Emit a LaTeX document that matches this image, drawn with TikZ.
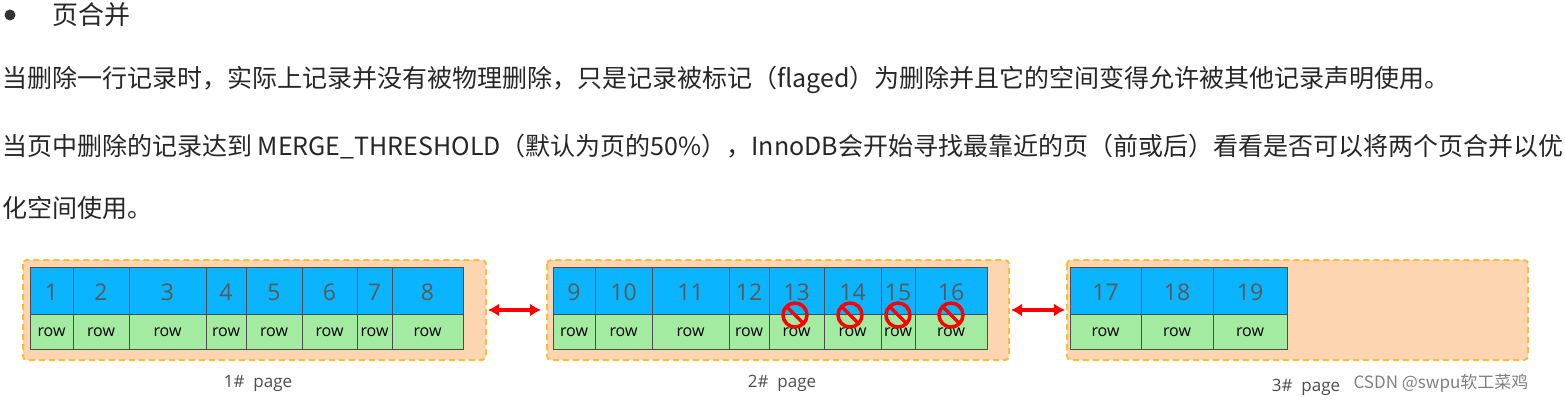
\documentclass[tikz,border=0pt]{standalone}
\usepackage{fontspec}
\usetikzlibrary{arrows.meta}
\setmainfont{Noto Sans CJK SC}
\newfontfamily\uifont{Open Sans}
\definecolor{cblue}{HTML}{0BB4FF}
\definecolor{cgreen}{HTML}{A4EBA2}
\definecolor{cpage}{HTML}{FDD5B1}
\definecolor{cdash}{HTML}{F7BE3C}
\begin{document}
\begin{tikzpicture}[x=1pt,y=-1pt,
  pagebox/.style={draw=cdash,fill=cpage,dash pattern=on 6pt off 4pt,line width=2pt,rounded corners=4pt},
  numcell/.style={draw=black!70,fill=cblue,line width=0.7pt},
  rowcell/.style={draw=black!70,fill=cgreen,line width=0.7pt},
  numtxt/.style={font=\uifont\fontsize{23}{23}\selectfont,text=black!65},
  rowtxt/.style={font=\uifont\fontsize{16}{16}\selectfont},
  lbl/.style={font=\uifont\fontsize{17}{17}\selectfont,text=black!70},
  para/.style={anchor=west,font=\fontsize{25}{26}\selectfont,text=black!85,inner sep=0},
  link/.style={draw=red,line width=3.5pt,{Latex[length=11pt,width=13pt]}-{Latex[length=11pt,width=13pt]}},
  nosign/.style={draw=red,line width=3.5pt,circle,minimum size=24pt,inner sep=0}]
\useasboundingbox (0,0) rectangle (1565,401);
\fill[black!80] (10,15) circle (5.5);
\node[para,font=\fontsize{26}{26}\selectfont] (title) at (52,15) {页合并};
\node[para] (p1) at (2,80) {当删除一行记录时，实际上记录并没有被物理删除，只是记录被标记（flaged）为删除并且它的空间变得允许被其他记录声明使用。};
\node[para] (p2) at (2,147) {当页中删除的记录达到 MERGE\_THRESHOLD（默认为页的50\%），InnoDB会开始寻找最靠近的页（前或后）看看是否可以将两个页合并以优};
\node[para] (p3) at (2,208) {化空间使用。};
% pages
\draw[pagebox] (23,260) rectangle (486,360);
\draw[pagebox] (547,260) rectangle (1009,360);
\draw[pagebox] (1067,260) rectangle (1528,360);
\newcommand{\cells}[2]{%
 \foreach \a/\b/\t in {#1}{%
  \draw[numcell] (\a,267) rectangle (\b,314);
  \draw[rowcell] (\a,314) rectangle (\b,349);
  \node[numtxt] at ({(\a+\b)/2},292) {\t};
  \node[rowtxt] at ({(\a+\b)/2},332) {row};}}
\cells{30/73/1,73/129/2,129/206/3,206/246/4,246/302/5,302/357/6,357/392/7,392/463/8}{}
\cells{553/595/9,595/652/10,652/729/11,729/769/12,769/824/13,824/881/14,881/915/15,915/987/16}{}
\cells{1070/1141/17,1141/1213/18,1213/1287/19}{}
\foreach \x/\n in {795/a,850/b,898/c,951/d}{
  \node[nosign] (s\n) at (\x,315) {};
  \draw[red,line width=3.5pt] ([shift={(-8.5,-8.5)}]s\n.center) -- ([shift={(8.5,8.5)}]s\n.center);}
\coordinate (l1) at (488,310); \coordinate (r1) at (541,310);
\coordinate (l2) at (1011,310); \coordinate (r2) at (1065,310);
\draw[link] (l1) -- (r1);
\draw[link] (l2) -- (r2);
\node[lbl] (n1) at (258,383) {1\#\ \ page};
\node[lbl] (n2) at (782,383) {2\#\ \ page};
\node[lbl] (n3) at (1306,387) {3\#\ \ page};
\node[anchor=west,font=\fontsize{17}{17}\selectfont,text=black!50] (wm) at (1350,383) {CSDN @swpu软工菜鸡};
\end{tikzpicture}
\end{document}
